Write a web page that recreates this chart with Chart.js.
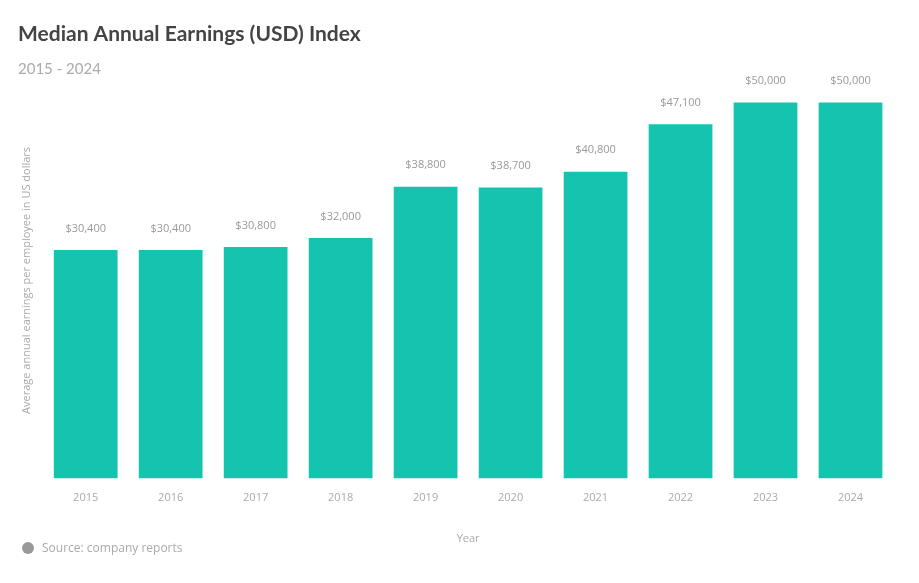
<!DOCTYPE html>
<html lang="en">
<head>
  <meta charset="UTF-8">
  <title>Earnings Chart</title>
  <script src="https://cdn.jsdelivr.net/npm/chart.js"></script>
  <style>
    body { margin: 0; background: #fff; }
    .wrap { width: 919px; height: 583px; position: relative; }
  </style>
</head>
<body>
  <div class="wrap">
    <canvas id="earningsChart"></canvas>
  </div>

  <script>
    // values
    const years = ['2015', '2016', '2017', '2018', '2019', '2020', '2021', '2022', '2023', '2024'];
    const earnings = [30400, 30400, 30800, 32000, 38800, 38700, 40800, 47100, 50000, 50000];
    const valueLabels = ['$30,400', '$30,400', '$30,800', '$32,000', '$38,800', '$38,700', '$40,800', '$47,100', '$50,000', '$50,000'];

    const barColor = '#14c4af';

    // value labels above each bar + footer line
    const extras = {
      id: 'extras',
      afterDatasetsDraw(chart) {
        const ctx = chart.ctx;
        const meta = chart.getDatasetMeta(0);
        ctx.save();
        ctx.font = '11px "Open Sans", sans-serif';
        ctx.fillStyle = '#999';
        ctx.textAlign = 'center';
        ctx.textBaseline = 'bottom';
        meta.data.forEach((bar, i) => {
          ctx.fillText(valueLabels[i], bar.x, bar.y - 16);
        });
        ctx.restore();
      },
      afterDraw(chart) {
        const ctx = chart.ctx;
        ctx.save();
        ctx.fillStyle = '#999';
        ctx.beginPath();
        ctx.arc(28, 548, 6, 0, Math.PI * 2);
        ctx.fill();
        ctx.font = '12px "Open Sans", sans-serif';
        ctx.fillStyle = '#aaa';
        ctx.textBaseline = 'middle';
        ctx.fillText('Source: company reports', 42, 549);
        ctx.restore();
      }
    };

    new Chart(document.getElementById('earningsChart'), {
      type: 'bar',
      data: {
        labels: years,
        datasets: [{
          label: 'Earnings',
          data: earnings,
          backgroundColor: barColor,
          barPercentage: 0.75,
          categoryPercentage: 1
        }]
      },
      options: {
        responsive: true,
        maintainAspectRatio: false,
        animation: false,
        layout: { padding: { left: 18, right: 26, top: 18, bottom: 34 } },
        plugins: {
          legend: { display: false },
          tooltip: { enabled: false },
          title: {
            display: true,
            text: 'Median Annual Earnings (USD) Index',
            align: 'start',
            color: '#444',
            font: { family: 'Lato', size: 21, weight: 'bold' },
            padding: { top: 4, bottom: 11 }
          },
          subtitle: {
            display: true,
            text: '2015 - 2024',
            align: 'start',
            color: '#aaa',
            font: { family: 'Lato', size: 15 },
            padding: { top: 2, bottom: 4 }
          }
        },
        scales: {
          x: {
            grid: { display: false },
            border: { display: false },
            ticks: { color: '#aaa', font: { family: 'Open Sans', size: 11 }, padding: 5 },
            title: {
              display: true,
              text: 'Year',
              color: '#aaa',
              font: { family: 'Open Sans', size: 11 },
              padding: { top: 22 }
            }
          },
          y: {
            min: 0,
            max: 52700,
            grid: { display: false },
            border: { display: false },
            ticks: { display: false },
            title: {
              display: true,
              text: 'Average annual earnings per employee in US dollars',
              color: '#aaa',
              font: { family: 'Open Sans', size: 11 },
              padding: { top: 2, bottom: 2 }
            }
          }
        }
      },
      plugins: [extras]
    });
  </script>
</body>
</html>
